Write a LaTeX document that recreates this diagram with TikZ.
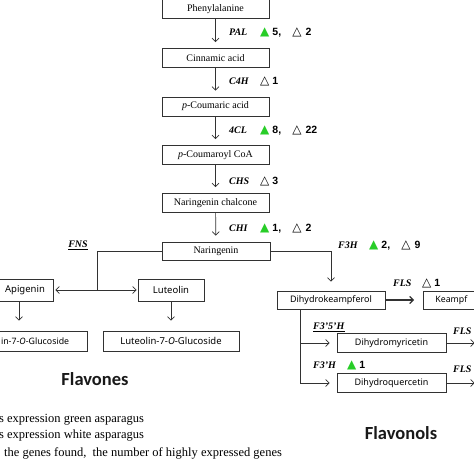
\documentclass[tikz,border=0pt]{standalone}
\usepackage{fontspec}
\setmainfont{Liberation Serif}
\newfontfamily\boxfont{Noto Sans}
\newfontfamily\numfont{Liberation Sans}
\newfontfamily\symfont{DejaVu Sans}
\newfontfamily\headfont{Carlito}
\usepackage{tikz}
\usetikzlibrary{arrows.meta}
\definecolor{upgreen}{RGB}{40,205,40}
\definecolor{linegray}{RGB}{50,50,50}

\newcommand{\up}{{\symfont\fontsize{12}{12}\selectfont\textcolor{upgreen}{▲}}}
\newcommand{\dn}{{\symfont\fontsize{12}{12}\selectfont △}}
\newcommand{\enz}[1]{\textbf{\textit{#1}}}
\newcommand{\enzbox}[2][31pt]{\makebox[#1][l]{\enz{#2}}}
\newcommand{\num}[1]{{\numfont\bfseries\fontsize{10.5}{12}\selectfont #1}}

\tikzset{
	box/.style={draw=linegray, line width=0.7pt, minimum width=107pt, minimum height=19pt, inner sep=0pt, font=\fontsize{10}{12}\selectfont},
	sbox/.style={box, font=\boxfont\fontsize{9}{11}\selectfont},
	lab/.style={anchor=west, inner sep=0pt, font=\fontsize{10}{12}\selectfont},
	line/.style={draw=linegray, line width=0.7pt},
	arr/.style={line, -{Straight Barb[length=3.5pt,width=7pt]}},
	head/.style={font=\headfont\bfseries\fontsize{18.5}{20}\selectfont, text=black!90},
	legend/.style={anchor=west, inner sep=0pt, font=\fontsize{12.5}{14}\selectfont}
}

\begin{document}
\begin{tikzpicture}[x=1pt, y=-1pt]
	\useasboundingbox (0,0) rectangle (474,474);
	\clip (0,0) rectangle (474,474);
	\node[box] (phe) at (215.5,9) {Phenylalanine};
	\node[box] (cin) at (215.5,58) {Cinnamic acid};
	\node[box] (cou) at (215.5,106.5) {\textit{p}-Coumaric acid};
	\node[box] (coa) at (215.5,155) {\textit{p}-Coumaroyl CoA};
	\node[box] (chal) at (215.5,203) {Naringenin chalcone};
	\node[box, minimum width=108pt, minimum height=18pt] (nar) at (216,251) {Naringenin};
	\draw[arr, shorten >=6pt] (phe) -- (cin);
	\draw[arr, shorten >=6pt] (cin) -- (cou);
	\draw[arr, shorten >=6pt] (cou) -- (coa);
	\draw[arr, shorten >=6pt] (coa) -- (chal);
	\draw[arr, shorten >=6pt] (chal) -- (nar);
	\node[lab] (pal) at (229,32) {\enzbox{PAL}\up\hspace{3pt}\makebox[20pt][l]{\num{5,}}\dn\hspace{4pt}\num{2}};
	\node[lab] (c4h) at (229,81) {\enzbox{C4H}\dn\hspace{3pt}\num{1}};
	\node[lab] (fourcl) at (229,130) {\enzbox{4CL}\up\hspace{3pt}\makebox[20pt][l]{\num{8,}}\dn\hspace{4pt}\num{22}};
	\node[lab] (chs) at (229,181) {\enzbox{CHS}\dn\hspace{3pt}\num{3}};
	\node[lab] (chi) at (229,228) {\enzbox{CHI}\up\hspace{3pt}\makebox[20pt][l]{\num{1,}}\dn\hspace{4pt}\num{2}};

	\coordinate (fnsturn) at (97,251);
	\coordinate (fnsfork) at (97,290);
	\node[lab, anchor=center] (fns) at (78,245) {\underline{\enz{FNS}}};
	\node[sbox, minimum width=56pt, minimum height=22pt, font=\boxfont\fontsize{9.5}{11}\selectfont] (api) at (25,290) {Apigenin};
	\node[sbox, minimum width=66pt, minimum height=22pt, font=\boxfont\fontsize{9.5}{11}\selectfont] (lut) at (171,290) {Luteolin};
	\node[sbox, anchor=east, text width=70pt, align=right, inner xsep=15pt, minimum height=20pt, font=\boxfont\fontsize{8.8}{11}\selectfont] (apiglu) at (88,341) {in-7-\textit{O}-Glucoside};
	\node[sbox, minimum width=136pt, minimum height=20pt, font=\boxfont\fontsize{9.5}{11}\selectfont] (lutglu) at (171,341) {Luteolin-7-\textit{O}-Glucoside};
	\draw[line] (nar.west) -- (fnsturn) -- (fnsfork);
	\draw[arr, shorten >=2pt] (fnsfork) -- (api);
	\draw[arr, shorten >=1pt] (fnsfork) -- (lut);
	\draw[arr, shorten >=10pt] ([xshift=-6pt]api.south) -- ([xshift=-6pt]api.south |- apiglu.north);
	\draw[arr, shorten >=10pt] (lut) -- (lutglu);

	\coordinate (f3hturn) at (331,251);
	\node[lab] (f3h) at (338,245) {\enzbox{F3H}\up\hspace{3pt}\makebox[20pt][l]{\num{2,}}\dn\hspace{4pt}\num{9}};
	\node[sbox, minimum width=108pt, minimum height=18pt] (dhk) at (331,300) {Dihydrokeampferol};
	\node[sbox, anchor=west, minimum width=0pt, text width=60pt, align=left, inner xsep=12pt, minimum height=18pt, font=\boxfont\fontsize{8.8}{11}\selectfont] (kae) at (423,300) {Keampf};
	\node[lab] (flsk) at (393,283) {\enzbox[29pt]{FLS}\dn\hspace{3pt}\num{1}};
	\draw[line] (nar.east) -- (f3hturn);
	\draw[arr, shorten >=9pt] (f3hturn) -- (dhk);
	\draw[arr, line width=1.2pt, shorten >=9pt] (dhk) -- (kae);

	\coordinate (dhmfork) at (300,343);
	\coordinate (dhkdrop) at (300,383);
	\node[sbox, minimum width=109pt] (dhm) at (391.5,343) {Dihydromyricetin};
	\node[sbox, minimum width=109pt] (dhq) at (391.5,383) {Dihydroquercetin};
	\node[lab] (f35h) at (313,327) {\underline{\enz{F3'5'H}}};
	\node[lab] (f3ph) at (313,365) {\enzbox[34pt]{F3'H}\up\hspace{3pt}\num{1}};
	\draw[line] (dhk.south -| dhkdrop) -- (dhkdrop);
	\draw[arr, shorten >=7pt] (dhmfork) -- (dhm);
	\draw[arr, shorten >=7pt] (dhkdrop) -- (dhq);
	\coordinate (dhmout) at (474.5,343);
	\coordinate (dhqout) at (474.5,383);
	\draw[arr] (dhm) -- (dhmout);
	\draw[arr] (dhq) -- (dhqout);
	\node[lab] (flsm) at (453,331) {\enz{FLS}};
	\node[lab] (flsq) at (453,369) {\enz{FLS}};

	\node[head] (flavones) at (95,379) {Flavones};
	\node[head] (flavonols) at (401,433) {Flavonols};
	\node[legend] (leggreen) at (-1,420) {s expression green asparagus};
	\node[legend] (legwhite) at (-1,436) {s expression white asparagus};
	\node[legend] (legcount) at (4,453) {the genes found,\ \ the number of highly expressed genes};
\end{tikzpicture}
\end{document}
